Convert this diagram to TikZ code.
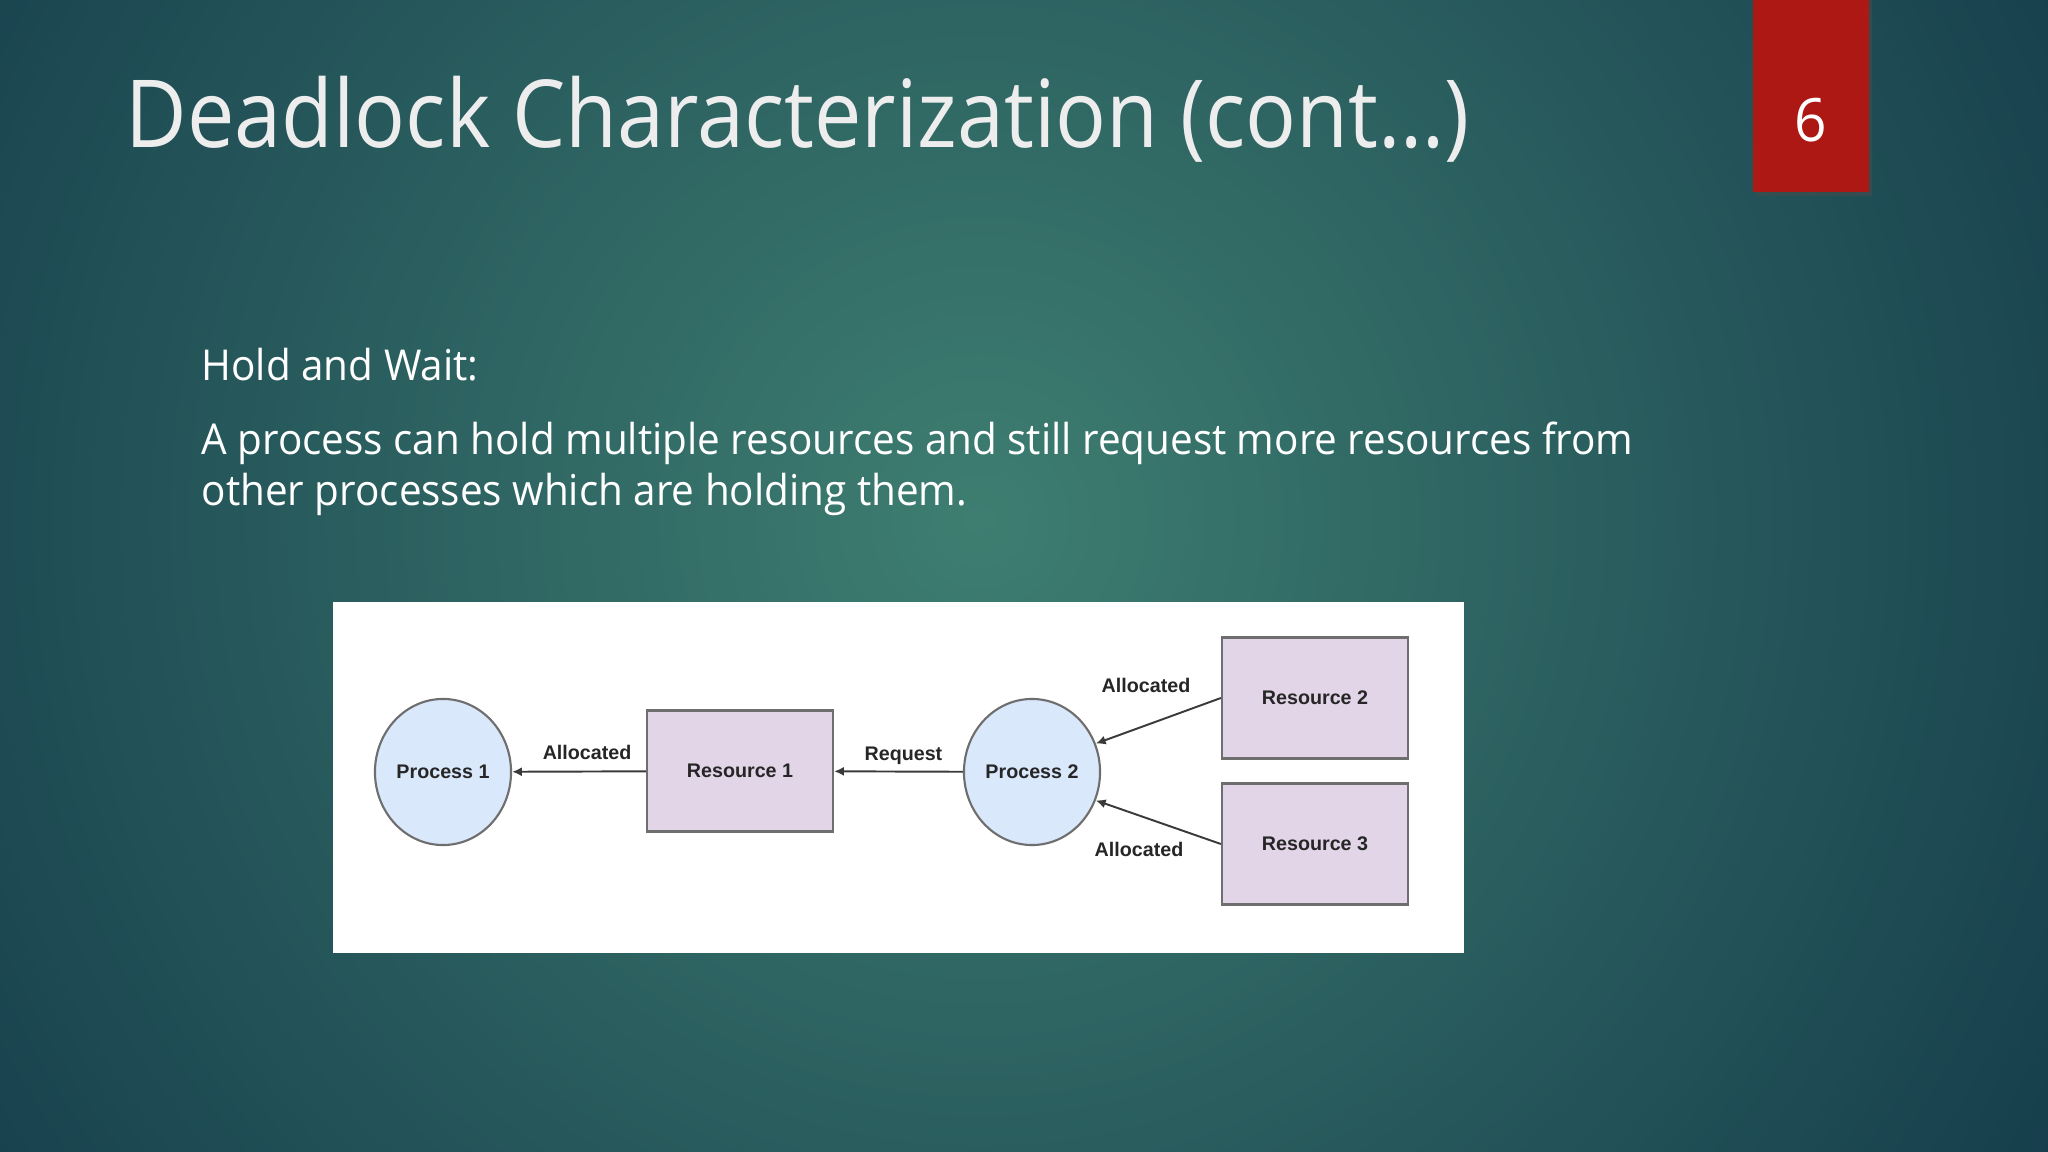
\documentclass[tikz,border=0pt]{standalone}
\usepackage{fontspec}
\setmainfont{Open Sans}
\newfontfamily\titelfont[FakeStretch=0.9]{Open Sans}
\newfontfamily\folienfont[FakeStretch=0.95]{Open Sans}
\newfontfamily\diagfont{Liberation Sans}
\usetikzlibrary{shapes.geometric,arrows.meta}

\definecolor{hgaussen}{HTML}{163E4C}
\definecolor{hgmitte}{HTML}{3E7E71}
\definecolor{folienrot}{HTML}{AD1815}
\definecolor{prozessblau}{HTML}{DAE8FC}
\definecolor{resslila}{HTML}{E1D5E7}
\definecolor{randgrau}{HTML}{6E6E6E}
\definecolor{pfeilgrau}{HTML}{3A3A3A}

\tikzset{
  prozess/.style={ellipse, draw=randgrau, line width=0.6pt, fill=prozessblau,
    minimum width=1.36cm, minimum height=1.46cm, inner sep=0pt,
    font=\diagfont\bfseries\fontsize{5.6}{6.5}\selectfont, text=black!85},
  ressource/.style={rectangle, draw=randgrau, line width=0.6pt, fill=resslila,
    minimum width=1.86cm, minimum height=1.21cm, inner sep=0pt,
    font=\diagfont\bfseries\fontsize{5.6}{6.5}\selectfont, text=black!85},
  pfeil/.style={draw=pfeilgrau, line width=0.55pt, -{Latex[length=2.8pt,width=2.6pt]}},
  beschriftung/.style={font=\diagfont\bfseries\fontsize{5.6}{6.5}\selectfont, text=black!85, inner sep=1pt},
  folientext/.style={anchor=base west, inner sep=0pt, text=white, font=\folienfont\fontsize{12.1}{14.3}\selectfont}
}

\begin{document}
\begin{tikzpicture}[x=0.01cm, y=-0.01cm]
  % Hintergrund der Folie
  \clip (0,0) rectangle (2048,1152);
  \fill[hgaussen] (0,0) rectangle (2048,1152);
  \shade[inner color=hgmitte, outer color=hgaussen] (980,520) circle (1250);

  % Rote Box mit Seitenzahl
  \fill[black!70, opacity=0.5] (1756,0) rectangle (1872,196);
  \fill[folienrot] (1753,0) rectangle (1869,192);
  \node[text=white, font=\folienfont\fontsize{17}{20}\selectfont] (seite) at (1811,120) {6};

  % Titel und Text
  \node[anchor=base west, inner sep=0pt, text=white!93!black, font=\titelfont\fontsize{26.7}{32}\selectfont] (titel) at (125,148) {Deadlock Characterization (cont…)};
  \node[folientext] (holdwait) at (201,381) {Hold and Wait:};
  \node[folientext] (zeile1) at (201,455) {A process can hold multiple resources and still request more resources from};
  \node[folientext] (zeile2) at (201,505) {other processes which are holding them.};

  % Weisser Kasten fuer das Diagramm
  \fill[white] (333,602) rectangle (1464,953);

  % Prozesse und Ressourcen
  \node[prozess] (p1) at (443,772) {Process 1};
  \node[ressource] (r1) at (740,771) {Resource 1};
  \node[prozess] (p2) at (1032,772) {Process 2};
  \node[ressource] (r2) at (1315,698) {Resource 2};
  \node[ressource] (r3) at (1315,844) {Resource 3};

  % Pfeile zwischen den Knoten
  \draw[pfeil] (r1) -- (p1) node[midway, above, beschriftung, xshift=2.3pt, yshift=2pt] {Allocated};
  \draw[pfeil] (p2) -- (r1) node[midway, above, beschriftung, xshift=1.4pt, yshift=0.8pt] {Request};
  \draw[pfeil] (r2.west) -- (p2.24) node[midway, above, beschriftung, xshift=-3.5pt, yshift=6.8pt] {Allocated};
  \draw[pfeil] (r3.west) -- (p2.-24) node[midway, below, beschriftung, xshift=-5.5pt, yshift=-4.5pt] {Allocated};
\end{tikzpicture}
\end{document}
